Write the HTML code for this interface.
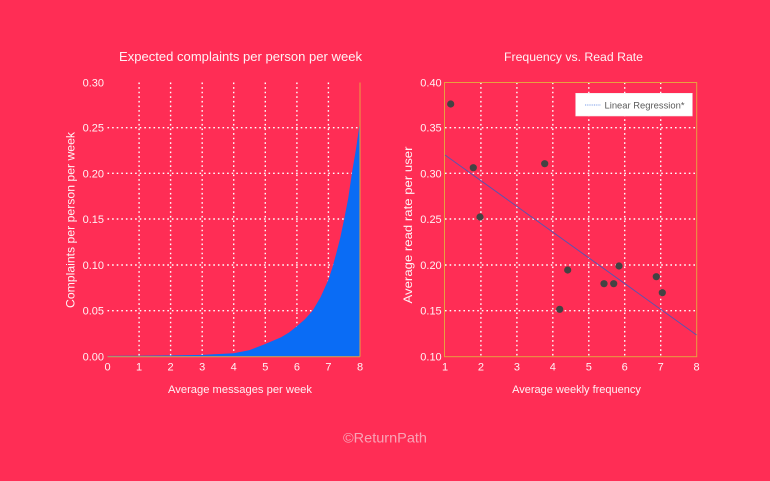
<!DOCTYPE html>
<html><head><meta charset="utf-8"><style>
html,body{margin:0;padding:0;background:#ff2d55;}
svg{display:block;}
text{font-family:"Liberation Sans",sans-serif;}
</style></head><body>
<svg width="770" height="481" viewBox="0 0 770 481" xmlns="http://www.w3.org/2000/svg">
<rect width="770" height="481" fill="#ff2d55"/>

<!-- LEFT CHART -->
<text x="240.5" y="61" font-size="12.8" fill="#fff2f5" text-anchor="middle" textLength="243" lengthAdjust="spacingAndGlyphs">Expected complaints per person per week</text>
<g stroke="#ffffff" stroke-width="1.4" stroke-dasharray="1.6 3" fill="none">
  <line x1="139.1" y1="82.5" x2="139.1" y2="356.5"/>
  <line x1="170.6" y1="82.5" x2="170.6" y2="356.5"/>
  <line x1="202.2" y1="82.5" x2="202.2" y2="356.5"/>
  <line x1="233.7" y1="82.5" x2="233.7" y2="356.5"/>
  <line x1="265.3" y1="82.5" x2="265.3" y2="356.5"/>
  <line x1="296.9" y1="82.5" x2="296.9" y2="356.5"/>
  <line x1="328.4" y1="82.5" x2="328.4" y2="356.5"/>
  <line x1="107.5" y1="127.7" x2="360" y2="127.7"/>
  <line x1="107.5" y1="173.3" x2="360" y2="173.3"/>
  <line x1="107.5" y1="219" x2="360" y2="219"/>
  <line x1="107.5" y1="265" x2="360" y2="265"/>
  <line x1="107.5" y1="310.7" x2="360" y2="310.7"/>
</g>
<path d="M107.5,356.5 L107.5,355.9 L139.1,355.7 L170.6,355.4 L202.2,354.9 L233.7,353.3 L249.5,350.1 L265.3,344 L281.1,337.3 L289,332.5 L296.9,326.3 L304.8,319.4 L312.6,310.8 L320.5,297.3 L328.4,279.7 L332.4,267.5 L336.3,253.2 L340.3,237.6 L344.2,219 L348.2,198.4 L352.1,172 L356,149 L360,121.6 L360,356.5 Z" fill="#0a6cf5"/>
<line x1="107.5" y1="356.8" x2="360" y2="356.8" stroke="#e8a040" stroke-width="1"/>
<line x1="360" y1="82.5" x2="360" y2="356.8" stroke="#e8a040" stroke-width="1"/>
<g font-size="11" fill="#fff2f5" text-anchor="end">
  <text x="104" y="86.5">0.30</text>
  <text x="104" y="131.7">0.25</text>
  <text x="104" y="177.3">0.20</text>
  <text x="104" y="223">0.15</text>
  <text x="104" y="269">0.10</text>
  <text x="104" y="314.7">0.05</text>
  <text x="104" y="360.5">0.00</text>
</g>
<g font-size="11" fill="#fff2f5" text-anchor="middle">
  <text x="107.5" y="370.5">0</text>
  <text x="139.1" y="370.5">1</text>
  <text x="170.6" y="370.5">2</text>
  <text x="202.2" y="370.5">3</text>
  <text x="233.7" y="370.5">4</text>
  <text x="265.3" y="370.5">5</text>
  <text x="296.9" y="370.5">6</text>
  <text x="328.4" y="370.5">7</text>
  <text x="360" y="370.5">8</text>
</g>
<text x="240" y="393" font-size="11" fill="#fff2f5" text-anchor="middle" textLength="144" lengthAdjust="spacingAndGlyphs">Average messages per week</text>
<text transform="translate(74.5,220) rotate(-90)" font-size="11.8" fill="#fff2f5" text-anchor="middle" textLength="176" lengthAdjust="spacingAndGlyphs">Complaints per person per week</text>

<!-- RIGHT CHART -->
<text x="573.5" y="61" font-size="12.4" fill="#fff2f5" text-anchor="middle" textLength="139" lengthAdjust="spacingAndGlyphs">Frequency vs. Read Rate</text>
<g stroke="#ffffff" stroke-width="1.4" stroke-dasharray="1.6 3" fill="none">
  <line x1="480.9" y1="82.5" x2="480.9" y2="356.5"/>
  <line x1="516.9" y1="82.5" x2="516.9" y2="356.5"/>
  <line x1="552.8" y1="82.5" x2="552.8" y2="356.5"/>
  <line x1="588.8" y1="82.5" x2="588.8" y2="356.5"/>
  <line x1="624.7" y1="82.5" x2="624.7" y2="356.5"/>
  <line x1="660.7" y1="82.5" x2="660.7" y2="356.5"/>
  <line x1="445" y1="127.7" x2="696.6" y2="127.7"/>
  <line x1="445" y1="173.3" x2="696.6" y2="173.3"/>
  <line x1="445" y1="219" x2="696.6" y2="219"/>
  <line x1="445" y1="265" x2="696.6" y2="265"/>
  <line x1="445" y1="310.7" x2="696.6" y2="310.7"/>
</g>
<rect x="444.5" y="82.5" width="252.2" height="274.2" fill="none" stroke="#e8a040" stroke-width="1"/>
<line x1="445" y1="155" x2="696.6" y2="335" stroke="#5a55b0" stroke-width="1"/>
<g fill="#434343">
  <circle cx="450.7" cy="104" r="3.6"/>
  <circle cx="473.3" cy="167.7" r="3.6"/>
  <circle cx="480" cy="217" r="3.6"/>
  <circle cx="544.7" cy="163.7" r="3.6"/>
  <circle cx="567.7" cy="270" r="3.6"/>
  <circle cx="559.7" cy="309.3" r="3.6"/>
  <circle cx="604" cy="283.7" r="3.6"/>
  <circle cx="613.7" cy="283.7" r="3.6"/>
  <circle cx="619" cy="266" r="3.6"/>
  <circle cx="656.3" cy="276.7" r="3.6"/>
  <circle cx="662.3" cy="292.7" r="3.6"/>
</g>
<rect x="575.7" y="93.3" width="116.6" height="22.7" fill="#ffffff" stroke="#f2e6e8" stroke-width="0.6"/>
<line x1="585" y1="105" x2="601" y2="105" stroke="#7a9ee8" stroke-width="1" stroke-dasharray="1 0.8"/>
<text x="604.5" y="108.4" font-size="9.5" fill="#5a5a5a" textLength="80" lengthAdjust="spacingAndGlyphs">Linear Regression*</text>
<g font-size="11" fill="#fff2f5" text-anchor="end">
  <text x="441.7" y="86.5">0.40</text>
  <text x="441.7" y="131.7">0.35</text>
  <text x="441.7" y="177.3">0.30</text>
  <text x="441.7" y="223">0.25</text>
  <text x="441.7" y="269">0.20</text>
  <text x="441.7" y="314.7">0.15</text>
  <text x="441.7" y="360.5">0.10</text>
</g>
<g font-size="11" fill="#fff2f5" text-anchor="middle">
  <text x="445" y="370.5">1</text>
  <text x="480.9" y="370.5">2</text>
  <text x="516.9" y="370.5">3</text>
  <text x="552.8" y="370.5">4</text>
  <text x="588.8" y="370.5">5</text>
  <text x="624.7" y="370.5">6</text>
  <text x="660.7" y="370.5">7</text>
  <text x="696.6" y="370.5">8</text>
</g>
<text x="576.5" y="393" font-size="11" fill="#fff2f5" text-anchor="middle">Average weekly frequency</text>
<text transform="translate(412,225) rotate(-90)" font-size="11.8" fill="#fff2f5" text-anchor="middle" textLength="157" lengthAdjust="spacingAndGlyphs">Average read rate per user</text>

<!-- FOOTER -->
<text x="385" y="442.5" font-size="14" fill="#f9a3b6" text-anchor="middle" textLength="84" lengthAdjust="spacingAndGlyphs">©ReturnPath</text>
</svg>
</body></html>
